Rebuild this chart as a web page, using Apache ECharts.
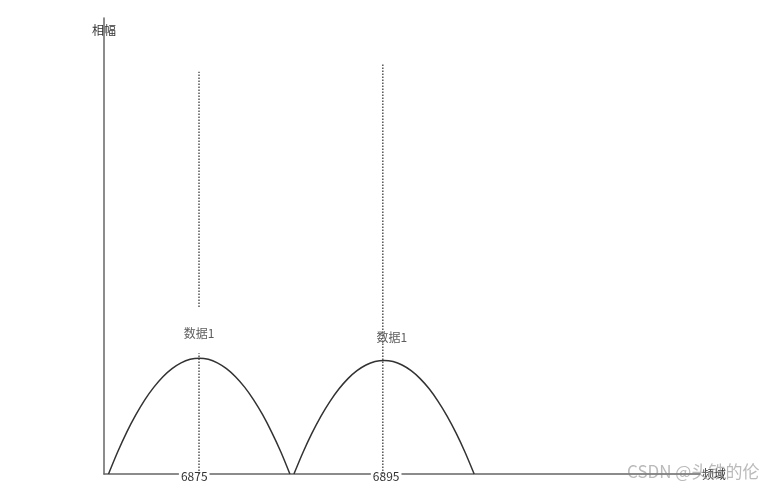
<!DOCTYPE html>
<html>
<head>
<meta charset="utf-8">
<script src="https://cdn.jsdelivr.net/npm/echarts@6/dist/echarts.min.js"></script>
<style>
  html, body { margin: 0; padding: 0; background: #fff; }
  #chart { width: 779px; height: 490px; }
</style>
</head>
<body>
<div id="chart"></div>
<script>
	// 频域 tick labels
	var xTickValues = [6875, 6895];

	// 两个波瓣 [频域, 相幅]
	var lobe1 = [
		[6866.07, 0], [6867.02, 4.83], [6867.96, 9.14], [6868.91, 12.95], [6869.85, 16.26],
		[6870.80, 19.05], [6871.74, 21.34], [6872.69, 23.11], [6873.63, 24.38], [6874.58, 25.15],
		[6875.52, 25.4],
		[6876.47, 25.15], [6877.41, 24.38], [6878.36, 23.11], [6879.30, 21.34], [6880.25, 19.05],
		[6881.19, 16.26], [6882.14, 12.95], [6883.08, 9.14], [6884.03, 4.83], [6884.97, 0]
	];
	var lobe2 = [
		[6885.39, 0], [6886.33, 4.73], [6887.27, 8.96], [6888.21, 12.70], [6889.15, 15.94],
		[6890.09, 18.68], [6891.02, 20.92], [6891.96, 22.66], [6892.90, 23.90], [6893.84, 24.65],
		[6894.78, 24.9],
		[6895.72, 24.65], [6896.66, 23.90], [6897.60, 22.66], [6898.54, 20.92], [6899.48, 18.68],
		[6900.41, 15.94], [6901.35, 12.70], [6902.29, 8.96], [6903.23, 4.73], [6904.17, 0]
	];

	// 虚线（第一条中间断开）
	var dash1Low = [[6875.5, 0], [6875.5, 26.5]];
	var dash1High = [[6875.5, 36.6], [6875.5, 88.2]];
	var dash2 = [[6894.65, 0], [6894.65, 89.9]];

	// 标签位置
	var labelNames = ['数据1', '数据1'];
	var labelPoints = [[6875.5, 30.9], [6895.6, 30.0]];

	var font = 'Noto Sans CJK SC';

	function dotted(data) {
		return {
			type: 'line',
			data: data,
			showSymbol: false,
			silent: true,
			lineStyle: { color: '#555', width: 1.5, type: [1.5, 1.5] }
		};
	}
	function lobe(data) {
		return {
			type: 'line',
			data: data,
			smooth: 0.3,
			showSymbol: false,
			lineStyle: { color: '#333', width: 1.5 }
		};
	}

	var myChart = echarts.init(document.getElementById('chart'));
	myChart.setOption({
		animation: false,
		textStyle: { fontFamily: font },
		grid: { left: 104, right: 79, top: 18, bottom: 16, containLabel: false },
		xAxis: {
			type: 'value',
			name: '频域',
			nameLocation: 'end',
			nameGap: 2,
			nameTextStyle: { color: '#333', fontSize: 12, padding: [10, 0, 0, 0], fontFamily: font },
			min: 6865.6,
			max: 6927.7,
			axisLine: { show: true, lineStyle: { color: '#666', width: 1.5 } },
			axisTick: { show: false },
			splitLine: { show: false },
			axisLabel: {
				customValues: xTickValues,
				formatter: function (v) { return String(v); },
				color: '#333',
				fontSize: 12,
				margin: -4,
				backgroundColor: '#fff',
				padding: [0, 2],
				fontFamily: font
			}
		},
		yAxis: {
			type: 'value',
			name: '相幅',
			nameLocation: 'end',
			nameGap: -18,
			nameTextStyle: { color: '#333', fontSize: 12, backgroundColor: '#fff', padding: [1, 0, 0, 0], fontFamily: font },
			min: 0,
			max: 100,
			axisLine: { show: true, lineStyle: { color: '#666', width: 1.5 } },
			axisTick: { show: false },
			axisLabel: { show: false },
			splitLine: { show: false }
		},
		series: [
			dotted(dash1Low),
			dotted(dash1High),
			dotted(dash2),
			lobe(lobe1),
			lobe(lobe2),
			{
				type: 'scatter',
				symbolSize: 0,
				silent: true,
				data: labelPoints.map(function (p, i) {
					return { value: p, name: labelNames[i] };
				}),
				label: {
					show: true,
					position: 'inside',
					formatter: '{b}',
					color: '#333',
					fontSize: 12,
					fontFamily: font
				}
			}
		],
		graphic: [{
			type: 'text',
			z: 100,
			x: 627,
			y: 472,
			style: {
				text: 'CSDN @头铁的伦',
				font: '17px "Noto Sans CJK SC"',
				fill: 'rgba(130,130,130,0.55)',
				verticalAlign: 'middle'
			}
		}]
	});
</script>
</body>
</html>
